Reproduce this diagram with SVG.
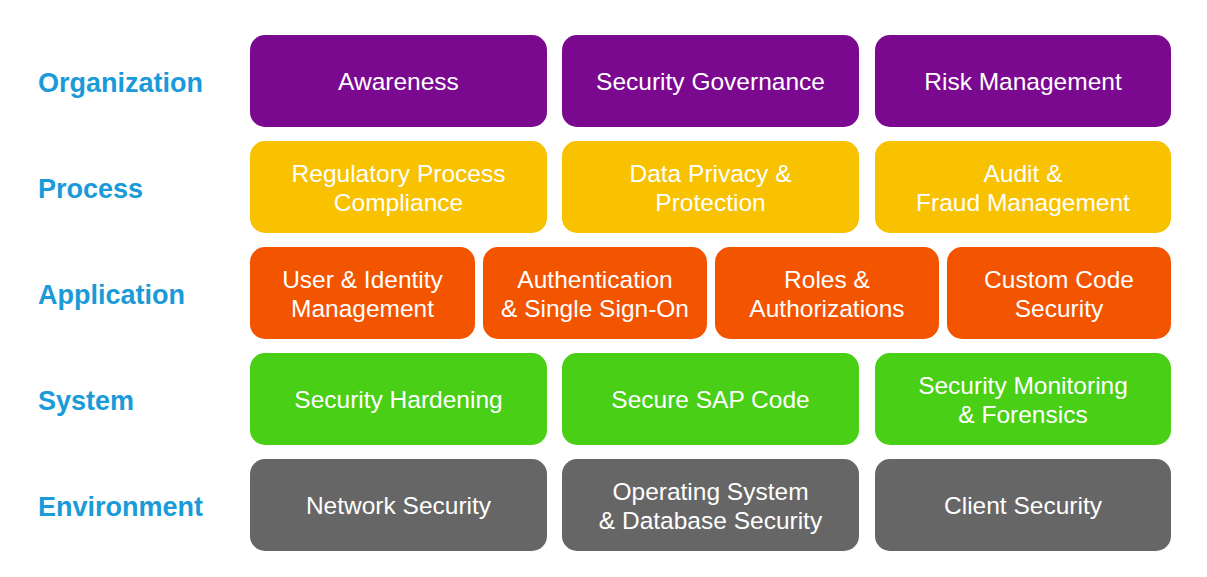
<svg xmlns="http://www.w3.org/2000/svg" width="1207" height="577" viewBox="0 0 1207 577">
<style>
.lbl{font-family:"Liberation Sans",Arial,sans-serif;font-weight:bold;font-size:27px;fill:#1A9AD8}
.t{font-family:"Liberation Sans",Arial,sans-serif;font-size:24.5px;fill:#ffffff;text-anchor:middle}
.org{fill:#7A0990}
.pro{fill:#F8C200}
.app{fill:#F35400}
.sys{fill:#48CF16}
.env{fill:#666666}
</style>
<rect width="1207" height="577" fill="#ffffff"/>
<g id="labels">
<text class="lbl" x="38" y="91.5">Organization</text>
<text class="lbl" x="38" y="197.5">Process</text>
<text class="lbl" x="38" y="303.5">Application</text>
<text class="lbl" x="38" y="409.5">System</text>
<text class="lbl" x="38" y="515.5">Environment</text>
</g>
<g id="awareness"><rect class="org" x="250" y="35" width="297" height="92" rx="15"/><text class="t" x="398.5" y="90">Awareness</text></g>
<g id="governance"><rect class="org" x="562" y="35" width="297" height="92" rx="15"/><text class="t" x="710.5" y="90">Security Governance</text></g>
<g id="risk"><rect class="org" x="875" y="35" width="296" height="92" rx="15"/><text class="t" x="1023" y="90">Risk Management</text></g>

<g id="regulatory"><rect class="pro" x="250" y="141" width="297" height="92" rx="15"/><text class="t" x="398.5" y="181.5">Regulatory Process</text><text class="t" x="398.5" y="210.5">Compliance</text></g>
<g id="privacy"><rect class="pro" x="562" y="141" width="297" height="92" rx="15"/><text class="t" x="710.5" y="181.5">Data Privacy &amp;</text><text class="t" x="710.5" y="210.5">Protection</text></g>
<g id="audit"><rect class="pro" x="875" y="141" width="296" height="92" rx="15"/><text class="t" x="1023" y="181.5">Audit &amp;</text><text class="t" x="1023" y="210.5">Fraud Management</text></g>

<g id="identity"><rect class="app" x="250" y="247" width="225" height="92" rx="15"/><text class="t" x="362.5" y="287.5">User &amp; Identity</text><text class="t" x="362.5" y="316.5">Management</text></g>
<g id="authentication"><rect class="app" x="483" y="247" width="224" height="92" rx="15"/><text class="t" x="595" y="287.5">Authentication</text><text class="t" x="595" y="316.5">&amp; Single Sign-On</text></g>
<g id="roles"><rect class="app" x="715" y="247" width="224" height="92" rx="15"/><text class="t" x="827" y="287.5">Roles &amp;</text><text class="t" x="827" y="316.5">Authorizations</text></g>
<g id="customcode"><rect class="app" x="947" y="247" width="224" height="92" rx="15"/><text class="t" x="1059" y="287.5">Custom Code</text><text class="t" x="1059" y="316.5">Security</text></g>

<g id="hardening"><rect class="sys" x="250" y="353" width="297" height="92" rx="15"/><text class="t" x="398.5" y="408">Security Hardening</text></g>
<g id="sapcode"><rect class="sys" x="562" y="353" width="297" height="92" rx="15"/><text class="t" x="710.5" y="408">Secure SAP Code</text></g>
<g id="monitoring"><rect class="sys" x="875" y="353" width="296" height="92" rx="15"/><text class="t" x="1023" y="393.5">Security Monitoring</text><text class="t" x="1023" y="422.5">&amp; Forensics</text></g>

<g id="network"><rect class="env" x="250" y="459" width="297" height="92" rx="15"/><text class="t" x="398.5" y="514">Network Security</text></g>
<g id="osdb"><rect class="env" x="562" y="459" width="297" height="92" rx="15"/><text class="t" x="710.5" y="499.5">Operating System</text><text class="t" x="710.5" y="528.5">&amp; Database Security</text></g>
<g id="client"><rect class="env" x="875" y="459" width="296" height="92" rx="15"/><text class="t" x="1023" y="514">Client Security</text></g>
<g id="connectors"/>
</svg>
